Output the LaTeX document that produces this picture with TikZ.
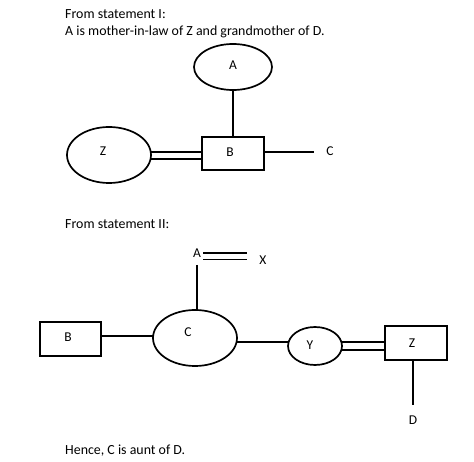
\documentclass[tikz,border=0pt]{standalone}
\usepackage{fontspec}
\setmainfont{Carlito}
\usetikzlibrary{shapes.geometric,backgrounds,calc}
\tikzset{
  shp/.style={draw=black,line width=1.7pt,fill=white,inner sep=0pt},
  ell/.style={shp,ellipse},
  box/.style={shp,rectangle},
  lbl/.style={font=\fontsize{13.5}{15}\selectfont,inner sep=0pt},
  txt/.style={font=\fontsize{13.9}{16}\selectfont,anchor=base west,inner sep=0pt},
  con/.style={line width=1.7pt}
}
\begin{document}
\begin{tikzpicture}[x=1pt,y=-1pt]
\useasboundingbox (0,0) rectangle (474,462);
% texts
\node[txt] (t1) at (65,18.5) {From statement I:};
\node[txt] (t2) at (65,35.5) {A is mother-in-law of Z and grandmother of D.};
\node[txt] (t3) at (65,229) {From statement II:};
\node[txt] (t4) at (65,454) {Hence, C is aunt of D.};
% statement I
\node[ell,minimum width=78pt,minimum height=46pt] (A1) at (233,67) {};
\node[lbl] (A1l) at (233,65) {A};
\node[box,minimum width=62pt,minimum height=33pt] (B1) at (233,153.5) {};
\node[lbl] (B1l) at (230,152) {B};
\node[ell,minimum width=84pt,minimum height=56pt] (Z1) at (109,155) {};
\node[lbl] (Z1l) at (103,151) {Z};
\node[lbl] (C1) at (330,151) {C};
\coordinate (C1e) at (314,152);
\begin{pgfonlayer}{background}
\draw[con] (A1.center) -- (B1.center);
\draw[con] ($(Z1.center)+(0,-3.3)$) coordinate (za) -- (za -| B1.center);
\draw[con] ($(Z1.center)+(0,3.7)$) coordinate (zb) -- (zb -| B1.center);
\draw[con] (B1.center |- C1e) -- (C1e);
\end{pgfonlayer}
% statement II
\node[lbl] (A2) at (197,253) {A};
\node[lbl] (X2) at (263,260) {X};
\coordinate (A2s) at (197,265);
\node[ell,minimum width=84pt,minimum height=56pt] (C2) at (195,338) {};
\node[lbl] (C2l) at (188,332) {C};
\node[box,minimum width=61pt,minimum height=34pt] (B2) at (70.5,339) {};
\node[lbl] (B2l) at (68,337) {B};
\node[ell,minimum width=54pt,minimum height=38pt] (Y2) at (315,346) {};
\node[lbl] (Y2l) at (310,345) {Y};
\node[box,minimum width=62pt,minimum height=34pt] (Z2) at (416,343) {};
\node[lbl] (Z2l) at (412,343) {Z};
\node[lbl] (D2) at (413,420) {D};
\coordinate (D2s) at (413,405);
\coordinate (Xd) at (247,253.3);
\begin{pgfonlayer}{background}
\draw[con] (A2.east |- Xd) ++ (2,0) -- (Xd);
\draw[con] ($(A2.east |- Xd)+(2,6.2)$) -- ($(Xd)+(0,6.2)$);
\draw[con] (A2s) -- (A2s |- C2.center);
\draw[con] (B2.center |- 0,336) -- (C2.center |- 0,336);
\draw[con] (C2.center |- 0,342) -- (Y2.center |- 0,342);
\draw[con] (Y2.center |- 0,342) -- (Z2.center |- 0,342);
\draw[con] (Y2.center |- 0,349.7) -- (Z2.center |- 0,349.7);
\draw[con] (Z2.center -| D2s) -- (D2s);
\end{pgfonlayer}
\end{tikzpicture}
\end{document}
